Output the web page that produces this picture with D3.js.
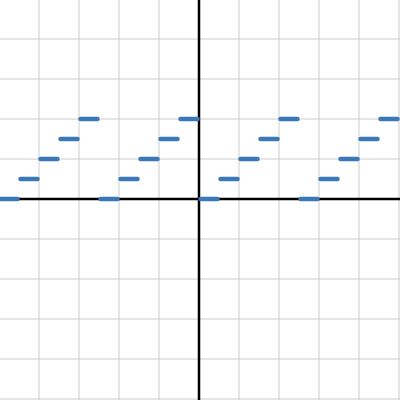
<!DOCTYPE html>
<html><head><meta charset="utf-8">
<script src="https://cdn.jsdelivr.net/npm/d3@7"></script>
<style>html,body{margin:0;padding:0;background:#fff}svg{display:block}</style>
</head><body>
<script>
const segStart = [-5,-4.5,-4,-3.5,-3,-2.5,-2,-1.5,-1,-0.5,0,0.5,1,1.5,2,2.5,3,3.5,4,4.5];
const segValue = [0,0.5,1,1.5,2,0,0.5,1,1.5,2,0,0.5,1,1.5,2,0,0.5,1,1.5,2];
const segWidth = 0.5;
const gridTicks = [-5,-4,-3,-2,-1,0,1,2,3,4,5];

const W=400,H=400;
const x=d3.scaleLinear().domain([-5,5]).range([-1,399]);
const y=d3.scaleLinear().domain([-5,5]).range([399,-1]);
const svg=d3.select("body").append("svg").attr("width",W).attr("height",H);
svg.append("g").selectAll("line").data(gridTicks).join("line")
 .attr("x1",d=>x(d)).attr("x2",d=>x(d)).attr("y1",0).attr("y2",H)
 .attr("stroke","#ccc").attr("stroke-width",1);
svg.append("g").selectAll("line").data(gridTicks).join("line")
 .attr("y1",d=>y(d)).attr("y2",d=>y(d)).attr("x1",0).attr("x2",W)
 .attr("stroke","#ccc").attr("stroke-width",1);
svg.append("line").attr("x1",x(0)).attr("x2",x(0)).attr("y1",0).attr("y2",H).attr("stroke","#000").attr("stroke-width",2.5);
svg.append("line").attr("y1",y(0)).attr("y2",y(0)).attr("x1",0).attr("x2",W).attr("stroke","#000").attr("stroke-width",2.5);
svg.append("g").selectAll("line").data(segStart).join("line")
 .attr("x1",d=>x(d)+1.5).attr("x2",d=>x(d+segWidth)-1.5)
 .attr("y1",(d,i)=>y(segValue[i])).attr("y2",(d,i)=>y(segValue[i]))
 .attr("stroke","#3b78b8").attr("stroke-width",4.5).attr("stroke-linecap","round");
</script>
</body></html>
